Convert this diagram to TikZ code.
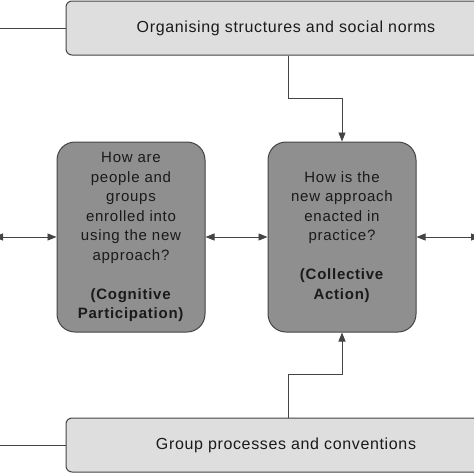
\documentclass[tikz,border=0pt]{standalone}
\usepackage{fontspec}
\setmainfont{Liberation Sans}
\newfontfamily\normfont[LetterSpace=4]{Liberation Sans}
\newfontfamily\questfont[LetterSpace=5]{Liberation Sans}
\usepackage{tikz}
\usetikzlibrary{arrows.meta}
\usetikzlibrary{calc}

\definecolor{normfill}{HTML}{DEDEDE}
\definecolor{qfill}{HTML}{8F8F8F}
\definecolor{edge}{HTML}{444444}
\definecolor{ink}{HTML}{1A1A1A}

\tikzset{
  contextbox/.style={draw=edge, line width=1pt, fill=normfill,
    rounded corners=6pt, minimum width=440pt, minimum height=54pt,
    inner sep=0pt, text=ink, font=\normfont\fontsize{16}{19}\selectfont},
  questionbox/.style={draw=edge, line width=1pt, fill=qfill,
    rounded corners=18pt, minimum width=148pt, minimum height=190pt,
    inner sep=0pt, align=center, text=ink,
    font=\questfont\fontsize{15}{19.5}\selectfont},
  link/.style={draw=edge, line width=0.9pt},
  tip/.tip={Triangle[length=9pt,width=7pt]}
}

\begin{document}
\begin{tikzpicture}[x=1pt,y=-1pt]
\useasboundingbox (0,0) rectangle (474,474);
\fill[white] (0,0) rectangle (474,474);
\node[contextbox] (orgnorms) at (286,28)
      {Organising structures and social norms};
\node[contextbox] (grpconv) at (286,445)
      {Group processes and conventions};
\node[questionbox] (cogpart) at (131,237)
      {How are\\people and\\groups\\enrolled into\\using the new\\approach?\\[19.5pt]
       \textbf{(Cognitive}\\\textbf{Participation)}};
\node[questionbox] (collact) at (342,237)
      {How is the\\new approach\\enacted in\\practice?\\[19.5pt]
       \textbf{(Collective}\\\textbf{Action)}};
\coordinate (topleft) at (0,28);
\coordinate (bottomleft) at (0,445);
\coordinate (midleft) at (-6,237);
\coordinate (midright) at (480,237);
\draw[link] (orgnorms.west) -- (topleft);
\draw[link] (grpconv.west) -- (bottomleft);
\draw[link,tip-tip] (midleft) -- (cogpart.west);
\draw[link,tip-tip] (cogpart.east) -- (collact.west);
\draw[link,tip-tip] (collact.east) -- (midright);
\draw[link,-tip] ([xshift=2pt]orgnorms.south) -- ++(0,43) -| (collact.north);
\draw[link,-tip] ([xshift=2pt]grpconv.north) -- ++(0,-43) -| (collact.south);
\end{tikzpicture}
\end{document}
